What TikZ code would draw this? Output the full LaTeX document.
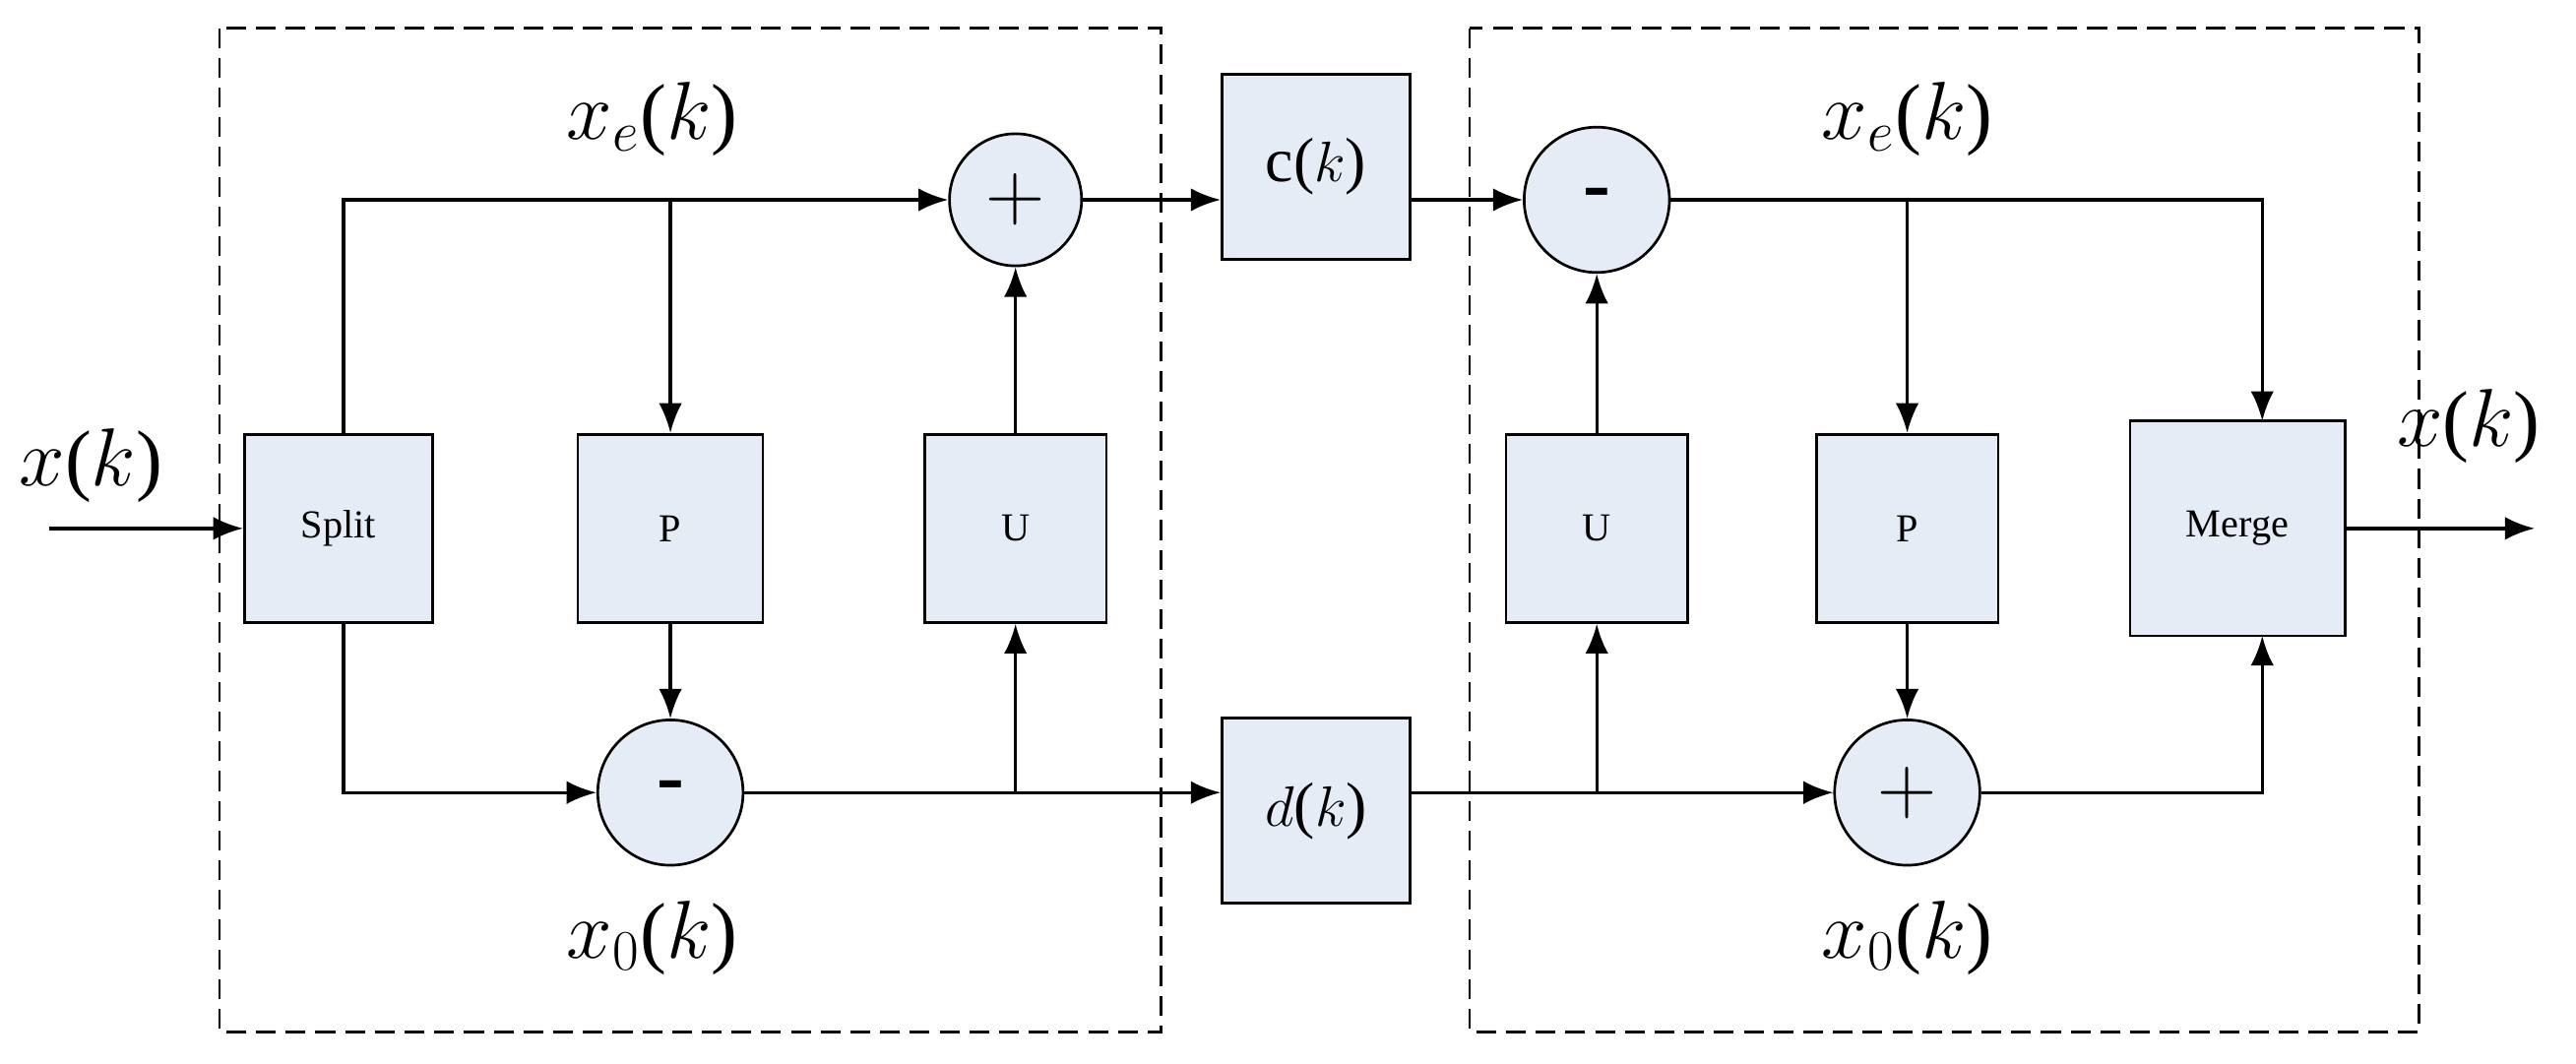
\documentclass[tikz,border=0pt]{standalone}
\usepackage{fontspec}
\setmainfont{Liberation Serif}
\usetikzlibrary{arrows.meta}
\begin{document}
\begin{tikzpicture}[x=0.5pt,y=-0.5pt,
  blk/.style={draw,fill=bfill,line width=0.8pt,inner sep=0pt,font=\fontsize{12}{14}\selectfont},
  cir/.style={draw,circle,fill=bfill,line width=0.8pt,inner sep=0pt,minimum size=44pt},
  ln/.style={line width=1pt},
  ar/.style={ln,-{Latex[length=9pt,width=7pt]}},
  dbox/.style={draw,dashed,line width=0.7pt,dash pattern=on 6pt off 3pt},
  lab/.style={font=\fontsize{24}{28}\selectfont}]
\definecolor{bfill}{HTML}{E6ECF6}
\useasboundingbox (0,0) rectangle (1560,644);
\draw[dbox] (133,17) rectangle (703,625);
\draw[dbox] (890,17) rectangle (1465,625);
\node[blk,minimum width=57pt,minimum height=57pt] (split) at (205,320) {Split};
\node[blk,minimum width=56pt,minimum height=57pt] (pl) at (406,320) {P};
\node[blk,minimum width=55pt,minimum height=57pt] (ul) at (615,320) {U};
\node[blk,minimum width=55pt,minimum height=57pt] (ur) at (967,320) {U};
\node[blk,minimum width=55pt,minimum height=57pt] (pr) at (1155,320) {P};
\node[blk,minimum width=65pt,minimum height=65pt] (merge) at (1355,320) {Merge};
\node[blk,minimum width=57pt,minimum height=56pt,font=\fontsize{19}{22}\selectfont] (c) at (797,101) {c($k$)};
\node[blk,minimum width=57pt,minimum height=56pt,font=\fontsize{19}{22}\selectfont] (d) at (797,491) {$d$($k$)};
\node[cir,minimum size=40pt] (pl1) at (615,121) {\Huge$+$};
\node[cir] (ml1) at (406,480) {\Huge\bfseries -};
\node[cir] (mr1) at (967,121) {\Huge\bfseries -};
\node[cir] (pr1) at (1155,480) {\Huge$+$};
\coordinate (in) at (30,320);
\coordinate (out) at (1535,320);
\draw[ar] (208,262) -- (208,121) -- (pl1);
\draw[ar] (406,121) -- (pl);
\draw[ar] (pl) -- (ml1);
\draw[ar] (208,377) -- (208,480) -- (ml1);
\draw[ar] (ml1.east) -- (ml1.east -| d.west);
\draw[ar] (615,480) -- (ul);
\draw[ar] (ul) -- (pl1);
\draw[ar] (pl1.east) -- (pl1.east -| c.west);
\draw[ar] (c.east |- mr1.west) -- (mr1.west);
\draw[ar] (mr1) -- (1370,121) -- (1370,255);
\draw[ar] (1155,121) -- (pr);
\draw[ar] (pr) -- (pr1);
\draw[ar] (d.east |- pr1.west) -- (pr1.west);
\draw[ar] (967,480) -- (ur);
\draw[ar] (ur) -- (mr1);
\draw[ar] (pr1) -- (1370,480) -- (1370,385);
\draw[ar] (in) -- (split);
\draw[ar] (merge) -- (out);
\node[lab] at (55,282) {$x$($k$)};
\node[lab] at (1495,258) {$x$($k$)};
\node[lab] at (395,72) {$x_e$($k$)};
\node[lab] at (1155,72) {$x_e$($k$)};
\node[lab] at (395,568) {$x_0$($k$)};
\node[lab] at (1155,568) {$x_0$($k$)};
\end{tikzpicture}
\end{document}
